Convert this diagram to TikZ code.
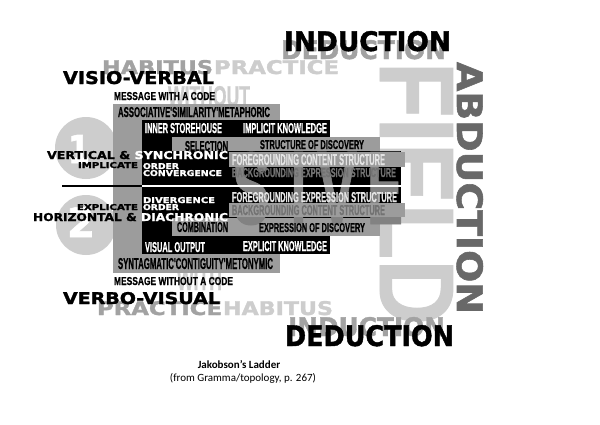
\documentclass[tikz,border=0pt]{standalone}
\usepackage{fontspec}
\usepackage{graphicx}
\setmainfont{Carlito}
\newfontfamily\heavyfont{DejaVu Sans}[BoldFeatures={FakeBold=1.5}]
\newfontfamily\narrowfont{Liberation Sans}[BoldFeatures={FakeBold=0.8}]

\definecolor{boxgray}{HTML}{9C9C9C}
\definecolor{midgray}{HTML}{A2A2A2}
\definecolor{palegray}{HTML}{CDCDCD}
\definecolor{letgray}{HTML}{828282}
\definecolor{abdgray}{HTML}{686868}
\definecolor{foretext}{HTML}{E4E4E4}
\definecolor{backtext}{HTML}{727272}

\newcommand{\fitword}[3]{\resizebox{#1pt}{#2pt}{#3}}

\tikzset{
	word/.style={anchor=north west, inner sep=0pt, outer sep=0pt},
	heavy/.style={word, font=\heavyfont\bfseries},
	narrow/.style={word, font=\narrowfont\bfseries},
}

\begin{document}
\begin{tikzpicture}[x={(1pt,0pt)}, y={(0pt,-1pt)}] % pixel grid, y going down
		
		\fill[white] (0,0) rectangle (600,424);
		\useasboundingbox (0,0) rectangle (600,424);
		
		% field behind everything
		\node[narrow, text=palegray, rotate=-90] (field) at (453,62) {\fitword{263}{73}{FIELD}};
		
		% top words
		\node[heavy, text=midgray] (dedGhost) at (281,40) {\fitword{165}{19}{DEDUCTION}};
		\node[heavy] (induction) at (284,31) {\fitword{167}{20}{INDUCTION}};
		\node[heavy, text=midgray] (habitusTop) at (102,60) {\fitword{111}{14}{HABITUS}};
		\node[heavy, text=palegray] (practiceTop) at (214,60) {\fitword{125}{14}{PRACTICE}};
		\node[heavy] (visio) at (63,71) {\fitword{151}{13}{VISIO-VERBAL}};
		\node[narrow, text=palegray] (without) at (168,86) {\fitword{82}{20}{WITHOUT}};
		\node[narrow, text=palegray] (with) at (177,269) {\fitword{45}{21}{WITH}};
		
		% numbered discs
		\fill[palegray] (86,148) circle (31);
		\fill[palegray] (86,225) circle (30);
		\node[heavy, text=white] (one) at (68,135) {\fitword{22}{28}{1}};
		\node[heavy, text=white] (two) at (67,207) {\fitword{28}{30}{2}};
		
		\node[narrow] (msgWith) at (114,92) {\fitword{101}{8}{MESSAGE WITH A CODE}};
		
		% the ladder boxes
		\fill[boxgray] (113,104) rectangle (280,273);
		\fill[black] (142,120) rectangle (330,254);
		\fill[boxgray] (172,137) rectangle (380,236);
		\fill[black] (142,151) rectangle (401,218);
		\foreach \ch/\xl/\lw in {S/232/38, I/290/17, V/317/40, E/367/36}
		\node[narrow, text=letgray] (big\ch) at (\xl,152) {\fitword{\lw}{72}{\ch}};
		\fill[boxgray] (229,152) rectangle (405,167);
		\fill[boxgray] (229,203) rectangle (405,217);
		
		\node[narrow, text=foretext] (foreA) at (232,154) {\fitword{153}{11}{FOREGROUNDING CONTENT STRUCTURE}};
		\node[narrow, text=backtext] (backA) at (232,168) {\fitword{164}{9}{BACKGROUNDING EXPRESSION STRUCTURE}};
		\node[narrow, text=foretext] (foreB) at (232,192) {\fitword{165}{10}{FOREGROUNDING EXPRESSION STRUCTURE}};
		\node[narrow, text=backtext] (backB) at (232,205) {\fitword{153}{10}{BACKGROUNDING CONTENT STRUCTURE}};
		
		\node[narrow] (assoc) at (118,107) {\fitword{152}{10}{ASSOCIATIVE'SIMILARITY'METAPHORIC}};
		\node[narrow, text=white] (storehouse) at (145,123) {\fitword{77}{10}{INNER STOREHOUSE}};
		\node[narrow, text=white] (implicit) at (243,123) {\fitword{84}{10}{IMPLICIT KNOWLEDGE}};
		\node[narrow] (selection) at (185,141) {\fitword{43}{10}{SELECTION}};
		\node[narrow] (structDisc) at (260,140) {\fitword{104}{9}{STRUCTURE OF DISCOVERY}};
		\node[narrow] (combination) at (177,222) {\fitword{51}{10}{COMBINATION}};
		\node[narrow] (exprDisc) at (259,223) {\fitword{106}{9}{EXPRESSION OF DISCOVERY}};
		\node[narrow, text=white] (visual) at (145,242) {\fitword{60}{10}{VISUAL OUTPUT}};
		\node[narrow, text=white] (explicit) at (243,241) {\fitword{84}{10}{EXPLICIT KNOWLEDGE}};
		\node[narrow] (syntag) at (118,258) {\fitword{155}{11}{SYNTAGMATIC'CONTIGUITY'METONYMIC}};
		
		% divider
		\draw[line width=2.5pt] (62,186) -- (142,186);
		\draw[white, line width=1.8pt] (142,186) -- (402,186);
		
		% left labels
		\node[heavy] (vertical) at (47,151) {\fitword{181}{8}{VERTICAL \& \textcolor{white}{SYNCHRONIC}}};
		\node[heavy] (implicate) at (78,162) {\fitword{60}{6}{IMPLICATE}};
		\node[heavy, text=white] (orderA) at (143,163) {\fitword{36}{6}{ORDER}};
		\node[heavy, text=white] (convergence) at (143,170) {\fitword{79}{6}{CONVERGENCE}};
		\node[heavy, text=white] (divergence) at (143,197) {\fitword{72}{6}{DIVERGENCE}};
		\node[heavy] (explicate) at (77,204) {\fitword{61}{6}{EXPLICATE}};
		\node[heavy, text=white] (orderB) at (143,204) {\fitword{36}{6}{ORDER}};
		\node[heavy] (horizontal) at (33,213) {\fitword{195}{8}{HORIZONTAL \& \textcolor{white}{DIACHRONIC}}};
		
		% bottom words
		\node[narrow] (msgWithout) at (114,277) {\fitword{119}{8}{MESSAGE WITHOUT A CODE}};
		\node[heavy, text=midgray] (practiceBot) at (97,301) {\fitword{125}{14}{PRACTICE}};
		\node[heavy, text=palegray] (habitusBot) at (223,301) {\fitword{110}{14}{HABITUS}};
		\node[heavy] (verbo) at (63,292) {\fitword{157}{12}{VERBO-VISUAL}};
		\node[heavy, text=midgray] (indGhost) at (288,317) {\fitword{157}{19}{INDUCTION}};
		\node[heavy] (deduction) at (285,325) {\fitword{169}{21}{DEDUCTION}};
		
		\node[heavy, text=abdgray, rotate=-90] (abduction) at (483,62) {\fitword{252}{26}{ABDUCTION}};
		
		% caption
		\node[anchor=base, font=\fontsize{11}{13}\selectfont\bfseries] (title) at (239,368) {Jakobson's Ladder};
		\node[anchor=base, font=\fontsize{11}{13}\selectfont] (source) at (243,381) {(from Gramma/topology, p. 267)};
		
\end{tikzpicture}
\end{document}
